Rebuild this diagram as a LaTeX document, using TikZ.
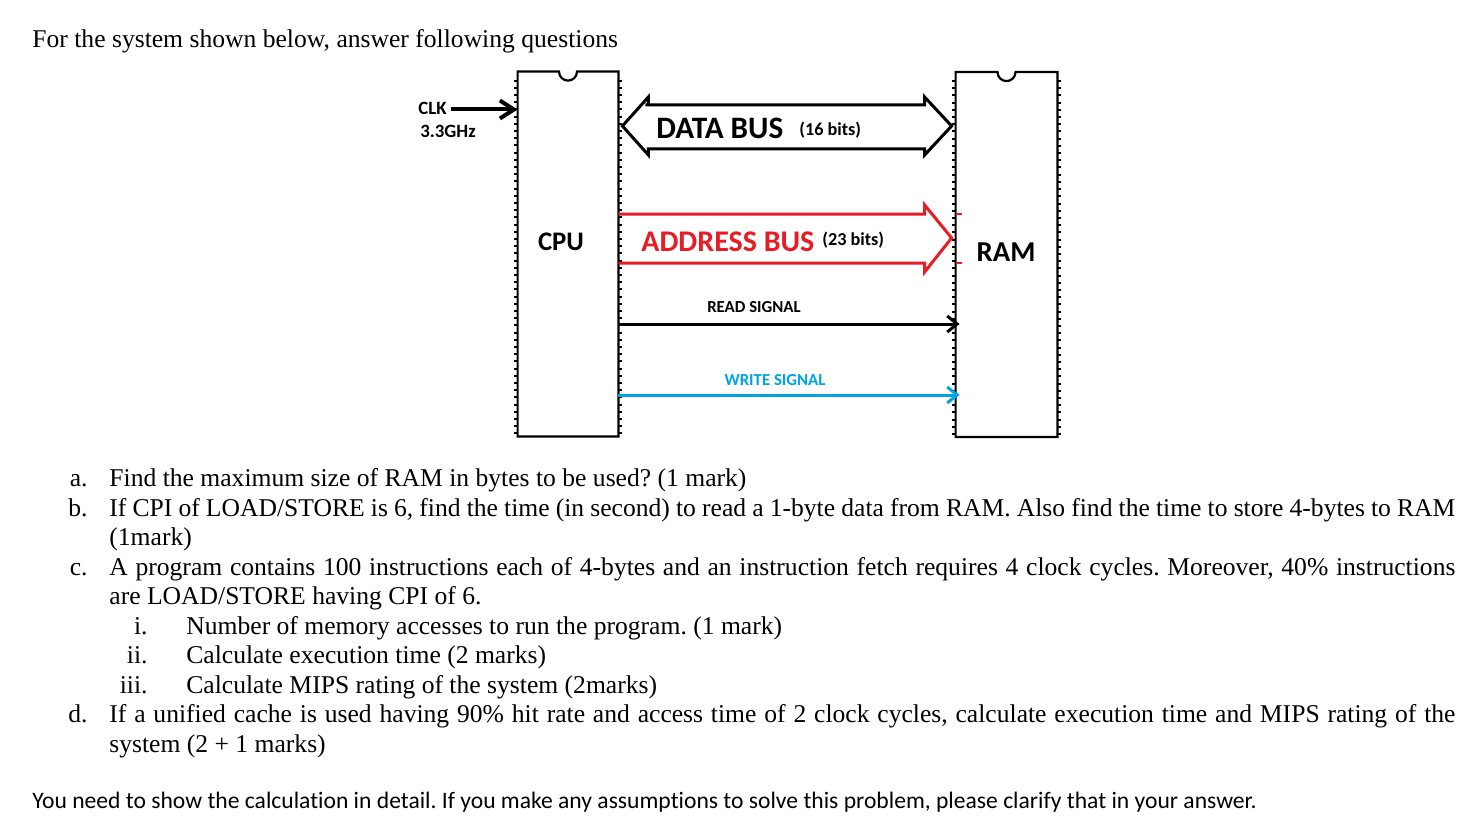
\documentclass[tikz,border=0pt]{standalone}
\usepackage{fontspec}
\setmainfont{Liberation Serif}
\newfontfamily\calfont[Ligatures=NoCommon]{Carlito}
\usetikzlibrary{arrows.meta,calc}
\definecolor{busred}{HTML}{E81C24}
\definecolor{sigblue}{HTML}{00A2E8}
\frenchspacing
\begin{document}
\begin{tikzpicture}[x=0.5pt,y=-0.5pt,
  body/.style={anchor=base west,inner sep=0pt,font=\fontsize{12.8pt}{14pt}\selectfont},
  lbl/.style={anchor=base east,inner sep=0pt,font=\fontsize{12.8pt}{14pt}\selectfont},
  dlab/.style={inner sep=0pt,font=\calfont\bfseries\fontsize{#1}{#1}\selectfont},
  chip/.style={draw=none,minimum width=50pt,minimum height=182pt,inner sep=0pt},
  chipline/.style={line width=1.1pt,line join=miter},
  pinsL/.style={line width=2pt,dash pattern=on 1pt off 2.6pt},
  pinsR/.style={line width=1.6pt,dash pattern=on 1pt off 2.6pt},
  bus/.style={line width=1.5pt,line join=miter},
  sig/.style={line width=1.5pt,-{Straight Barb[length=5pt,width=8pt,line width=1.5pt]}},
]
\useasboundingbox (0,0) rectangle (1484,824);
\fill[white] (0,0) rectangle (1484,824);

% chips
\node[chip] (cpu) at (568,254) {};
\node[chip,minimum width=50.5pt] (ram) at (1006.5,254.5) {};
\foreach \c in {cpu,ram}{
  \draw[pinsL] ($(\c.north west)+(-2,8)$) -- ($(\c.south west)+(-2,-2)$);
  \draw[pinsR] ($(\c.north east)+(2,8)$) -- ($(\c.south east)+(2,-2)$);
  \draw[chipline] ($(\c.north)+(-9,0)$) arc[start angle=180,end angle=360,radius=4.5pt]
     -- (\c.north east) -- (\c.south east) -- (\c.south west) -- (\c.north west) -- cycle;
}
\node[dlab=13.4pt,anchor=base] (cputxt) at (561,250) {CPU};
\node[dlab=14.4pt,anchor=base] (ramtxt) at (1006,261) {RAM};

% clock
\node[dlab=9.4pt,anchor=base west] (clk) at (418,115) {CLK};
\node[dlab=9.4pt,anchor=base west] (ghz) at (420,137.7) {3.3GHz};
\coordinate (clkin) at (cpu.west |- 0,109.5);
\draw[line width=2pt,-{Straight Barb[length=7pt,width=9pt,line width=2pt]}] (clk.east |- 0,109.5) ++(4,0) -- (clkin);

% data bus (double hollow arrow)
\coordinate (dL) at (cpu.east |- 0,126);
\coordinate (dR) at (ram.west |- 0,126);
\draw[bus] ($(dL)+(27,-21)$) -- ($(dR)+(-31,-21)$) -- ($(dR)+(-31,-29)$) -- ($(dR)+(-4,0)$)
  -- ($(dR)+(-31,29)$) -- ($(dR)+(-31,23)$) -- ($(dL)+(30,23)$) -- ($(dL)+(30,29)$)
  -- ($(dL)+(4,0)$) -- ($(dL)+(30,-29)$) -- ($(dL)+(30,-21)$) -- cycle;
\node[dlab=15.6pt,anchor=base west] (dbus) at (656,138.5) {DATA BUS};
\node[dlab=9.1pt,anchor=base west] (dbits) at (799,136) {(16 bits)};

% address bus
\coordinate (aL) at (cpu.east |- 0,238);
\coordinate (aR) at (ram.west |- 0,238);
\draw[bus,busred] ($(aL)+(0,-24)$) -- ($(aR)+(-31,-24)$) -- ($(aR)+(-31,-33)$) -- ($(aR)+(-4,0)$)
  -- ($(aR)+(-31,34)$) -- ($(aR)+(-31,25)$) -- ($(aL)+(0,25)$);
\draw[busred,line width=1.2pt] ($(ram.west |- 0,214)+(0,0)$) -- ++(6,0);
\draw[busred,line width=1.2pt] ($(ram.west |- 0,263)+(0,0)$) -- ++(6,0);
\node[dlab=15pt,anchor=base west,text=busred] (abus) at (641,251.5) {ADDRESS BUS};
\node[dlab=9.1pt,anchor=base west] (abits) at (822,245) {(23 bits)};

% read / write
\draw[sig] (cpu.east |- 0,324) -- ($(ram.west |- 0,324)+(4,0)$) coordinate (rdend);
\node[dlab=8.4pt,anchor=base] (rd) at (754,312.5) {READ SIGNAL};
\draw[sig,sigblue] (cpu.east |- 0,395) -- ($(ram.west |- 0,395)+(4,0)$) coordinate (wrend);
\node[dlab=8.4pt,anchor=base,text=sigblue] (wr) at (775,385.5) {WRITE SIGNAL};

% text
\node[body] (t0) at (32,48) {For the system shown below, answer following questions};
\node[lbl] (la) at (88,486) {a.};
\node[body] (ta) at (109,486) {Find the maximum size of RAM in bytes to be used? (1 mark)};
\node[lbl] (lb) at (88,516) {b.};
\node[body] (tb1) at (109,516) {\makebox[673pt][s]{If CPI of LOAD/STORE is 6, find the time (in second) to read a 1-byte data from RAM. Also find the time to store 4-bytes to RAM}};
\node[body] (tb2) at (109,545) {(1mark)};
\node[lbl] (lc) at (88,575) {c.};
\node[body] (tc1) at (109,575) {\makebox[673pt][s]{A program contains 100 instructions each of 4-bytes and an instruction fetch requires 4 clock cycles. Moreover, 40\% instructions}};
\node[body] (tc2) at (109,604) {are LOAD/STORE having CPI of 6.};
\node[lbl] (li) at (148,634) {i.};
\node[body] (ti) at (186,634) {Number of memory accesses to run the program. (1 mark)};
\node[lbl] (lii) at (148,663) {ii.};
\node[body] (tii) at (186,663) {Calculate execution time (2 marks)};
\node[lbl] (liii) at (148,693) {iii.};
\node[body] (tiii) at (186,693) {Calculate MIPS rating of the system (2marks)};
\node[lbl] (ld) at (88,722) {d.};
\node[body] (td1) at (109,722) {\makebox[673pt][s]{If a unified cache is used having 90\% hit rate and access time of 2 clock cycles, calculate execution time and MIPS rating of the}};
\node[body] (td2) at (109,752) {system (2 + 1 marks)};
\node[anchor=base west,inner sep=0pt,font=\calfont\fontsize{11.8pt}{13pt}\selectfont] (bot) at (32,808) {You need to show the calculation in detail. If you make any assumptions to solve this problem, please clarify that in your answer.};
\end{tikzpicture}
\end{document}
